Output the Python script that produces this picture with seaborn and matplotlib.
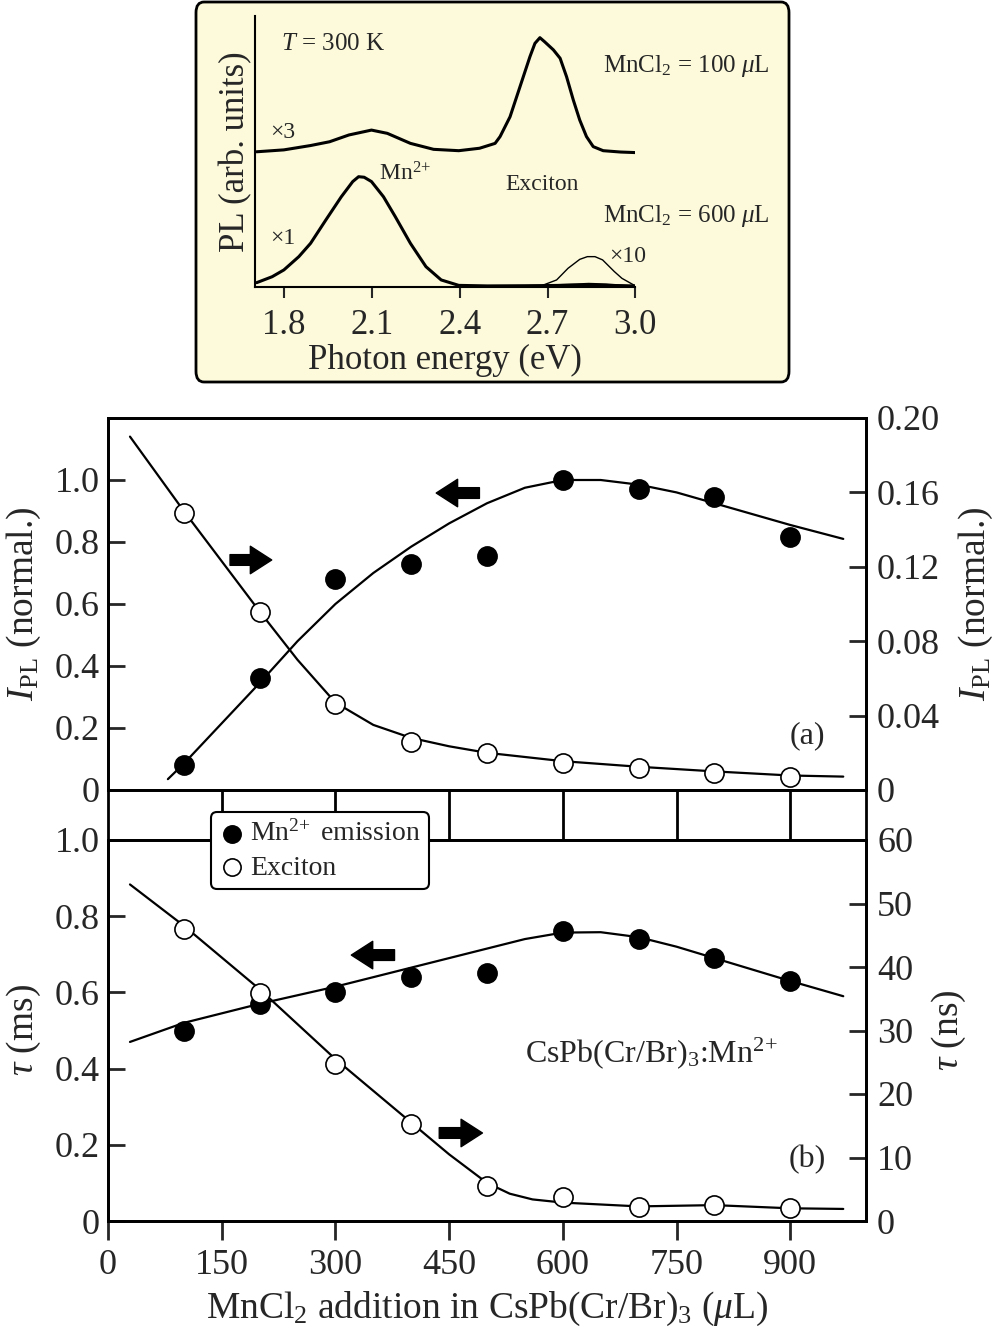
import numpy as np
import pandas as pd
import matplotlib
matplotlib.use("Agg")
import matplotlib.pyplot as plt
import seaborn as sns
from matplotlib.patches import FancyBboxPatch

# ---------------- data ----------------
mncl2 = [100, 200, 300, 400, 500, 600, 700, 800, 900]
# panel (a) PL intensity
ipl_mn = [0.08, 0.36, 0.68, 0.73, 0.755, 1.0, 0.97, 0.945, 0.816]
ipl_ex = [0.149, 0.0957, 0.046, 0.026, 0.020, 0.0145, 0.012, 0.009, 0.007]
fit_a_mn_x = [79, 100, 150, 200, 250, 300, 350, 400, 450, 500, 550, 600, 650, 700, 750, 800, 850, 900, 970]
fit_a_mn_y = [0.035, 0.085, 0.215, 0.345, 0.48, 0.60, 0.70, 0.785, 0.86, 0.925, 0.975, 1.0, 1.0, 0.985, 0.96, 0.925, 0.89, 0.855, 0.81]
fit_a_ex_x = [29, 100, 150, 200, 250, 300, 350, 400, 450, 500, 600, 700, 800, 900, 970]
fit_a_ex_y = [0.19, 0.150, 0.123, 0.096, 0.070, 0.047, 0.035, 0.028, 0.0235, 0.020, 0.0155, 0.0125, 0.010, 0.0078, 0.0072]
# panel (b) lifetimes
tau_mn = [0.50, 0.57, 0.60, 0.64, 0.65, 0.76, 0.74, 0.69, 0.63]
tau_ex = [46.0, 35.9, 24.7, 15.3, 5.5, 3.8, 2.2, 2.5, 2.0]
fit_b_mn_x = [29, 100, 200, 300, 400, 500, 550, 600, 650, 700, 750, 800, 850, 900, 970]
fit_b_mn_y = [0.47, 0.52, 0.57, 0.615, 0.665, 0.715, 0.74, 0.757, 0.758, 0.745, 0.72, 0.69, 0.66, 0.63, 0.59]
fit_b_ex_x = [29, 100, 200, 300, 400, 450, 500, 530, 560, 600, 700, 800, 900, 970]
fit_b_ex_y = [53.0, 46.5, 36.5, 25.5, 15.5, 10.5, 6.0, 4.3, 3.4, 2.9, 2.3, 2.5, 2.0, 1.9]

# inset spectra
spec100_e = [1.707, 1.80, 1.891, 1.956, 2.022, 2.099, 2.153, 2.232, 2.311, 2.397, 2.468, 2.521,
             2.538, 2.572, 2.606, 2.640, 2.657, 2.674, 2.690, 2.720, 2.743, 2.765, 2.788, 2.810,
             2.833, 2.856, 2.890, 2.950, 3.0]
spec100_v = [49.9, 50.6, 52.2, 53.6, 56.1, 57.9, 56.7, 53.0, 50.8, 50.3, 51.2, 53.0,
             55.5, 62.8, 73.9, 85.0, 89.9, 92.0, 90.5, 87.5, 84.4, 77.6, 69.0, 61.6,
             55.5, 51.8, 50.3, 49.8, 49.6]
spec600_e = [1.707, 1.76, 1.80, 1.851, 1.891, 1.943, 1.996, 2.035, 2.055, 2.074, 2.099, 2.14,
             2.18, 2.232, 2.285, 2.337, 2.397, 2.495, 2.679, 2.81, 3.0]
spec600_v = [1.6, 3.8, 6.3, 11.2, 16.1, 24.7, 33.3, 38.9, 40.7, 40.5, 38.9, 33.3,
             26.0, 16.1, 7.5, 2.6, 0.6, 0.4, 0.5, 0.7, 0.4]
spec600x10_e = [2.685, 2.731, 2.77, 2.81, 2.836, 2.862, 2.888, 2.928, 2.954, 3.0]
spec600x10_v = [0.7, 2.6, 6.9, 10.2, 11.2, 11.2, 10.0, 5.7, 3.2, 0.4]
spec600x1_e = [2.60, 2.70, 2.80, 2.84, 2.90, 2.95, 3.0]
spec600x1_v = [0.4, 0.7, 1.1, 1.3, 1.1, 0.7, 0.3]

x_ticks = [0, 150, 300, 450, 600, 750, 900]

# ---------------- style ----------------
sns.set_style("ticks")
plt.rcParams['font.family'] = ['Liberation Serif', 'DejaVu Serif']
plt.rcParams['mathtext.fontset'] = 'custom'
plt.rcParams['mathtext.rm'] = 'Liberation Serif'
plt.rcParams['mathtext.it'] = 'Liberation Serif:italic'
plt.rcParams['mathtext.bf'] = 'Liberation Serif:bold'
plt.rcParams['axes.linewidth'] = 2.0
plt.rcParams['axes.edgecolor'] = 'black'

W, H = 1000, 1327
fig = plt.figure(figsize=(W / 100, H / 100), dpi=100)

def fr(x0, y_top, x1, y_bot):
    return [x0 / W, 1 - y_bot / H, (x1 - x0) / W, (y_bot - y_top) / H]

TICK_FS = 26
LAB_FS = 27

axa = fig.add_axes(fr(108, 418, 866, 790))
axmid = fig.add_axes(fr(108, 790, 866, 840))
axb = fig.add_axes(fr(108, 840, 866, 1221))
axa2 = axa.twinx()
axb2 = axb.twinx()

df = pd.DataFrame({"x": mncl2, "ipl_mn": ipl_mn, "ipl_ex": ipl_ex, "tau_mn": tau_mn, "tau_ex": tau_ex})
dfa_mn = pd.DataFrame({"x": fit_a_mn_x, "y": fit_a_mn_y})
dfa_ex = pd.DataFrame({"x": fit_a_ex_x, "y": fit_a_ex_y})
dfb_mn = pd.DataFrame({"x": fit_b_mn_x, "y": fit_b_mn_y})
dfb_ex = pd.DataFrame({"x": fit_b_ex_x, "y": fit_b_ex_y})

MS = 190
# panel (a)
sns.lineplot(data=dfa_mn, x="x", y="y", ax=axa, color="black", lw=1.6, sort=False, zorder=2)
sns.scatterplot(data=df, x="x", y="ipl_mn", ax=axa, s=MS, color="black", edgecolor="black", linewidth=1.2, zorder=3)
sns.lineplot(data=dfa_ex, x="x", y="y", ax=axa2, color="black", lw=1.6, sort=False, zorder=2)
sns.scatterplot(data=df, x="x", y="ipl_ex", ax=axa2, s=MS, color="white", edgecolor="black", linewidth=1.2, zorder=3)
# panel (b)
sns.lineplot(data=dfb_mn, x="x", y="y", ax=axb, color="black", lw=1.6, sort=False, zorder=2)
h_mn = axb.scatter(df["x"], df["tau_mn"], s=MS, color="black", edgecolor="black", linewidth=1.2, zorder=3, label=r"Mn$^{2+}$ emission")
sns.lineplot(data=dfb_ex, x="x", y="y", ax=axb2, color="black", lw=1.6, sort=False, zorder=2)
h_ex = axb2.scatter(df["x"], df["tau_ex"], s=MS, color="white", edgecolor="black", linewidth=1.2, zorder=3, label="Exciton")

for ax in (axa, axa2, axmid, axb, axb2):
    ax.set_xlim(0, 1000)
    ax.set_xlabel("")
    ax.set_ylabel("")
    for s in ax.spines.values():
        s.set_linewidth(2.0)
        s.set_visible(True)

axa.set_ylim(0, 1.2)
axa2.set_ylim(0, 0.2)
axb.set_ylim(0, 1.0)
axb2.set_ylim(0, 60)

axa.set_yticks([0, 0.2, 0.4, 0.6, 0.8, 1.0])
axa.set_yticklabels(["0", "0.2", "0.4", "0.6", "0.8", "1.0"])
axa2.set_yticks([0, 0.04, 0.08, 0.12, 0.16, 0.20])
axa2.set_yticklabels(["0", "0.04", "0.08", "0.12", "0.16", "0.20"])
axb.set_yticks([0, 0.2, 0.4, 0.6, 0.8, 1.0])
axb.set_yticklabels(["0", "0.2", "0.4", "0.6", "0.8", "1.0"])
axb2.set_yticks([0, 10, 20, 30, 40, 50, 60])

for ax in (axa, axb):
    ax.tick_params(axis="y", direction="in", length=12, width=2, labelsize=TICK_FS, pad=6)
for ax in (axa2, axb2):
    ax.tick_params(axis="y", direction="in", length=12, width=2, labelsize=TICK_FS, pad=8)

axa.set_xticks([])
axa2.set_xticks([])
axmid.set_xticks([])
axmid.set_yticks([])
axmid.set_ylim(0, 1)
axmid.vlines(x_ticks[1:], 0, 1, color="black", lw=2.0)

axb.set_xticks(x_ticks)
axb.set_xticklabels([str(v) for v in x_ticks])
axb.tick_params(axis="x", direction="out", length=14, width=2, labelsize=TICK_FS, pad=6)

axa.set_ylabel(r"$I_{\rm PL}$ (normal.)", fontsize=LAB_FS, labelpad=8)
axa2.set_ylabel(r"$I_{\rm PL}$ (normal.)", fontsize=LAB_FS, rotation=90, labelpad=12)
axb.set_ylabel(r"$\tau$ (ms)", fontsize=LAB_FS, labelpad=8)
axb2.set_ylabel(r"$\tau$ (ns)", fontsize=LAB_FS, rotation=90, labelpad=12)
axb.set_xlabel(r"MnCl$_2$ addition in CsPb(Cr/Br)$_3$ ($\mu$L)", fontsize=LAB_FS, labelpad=6)

# arrows
arrow_kw = dict(arrowstyle="simple,head_length=0.7,head_width=0.9,tail_width=0.35",
                color="black", mutation_scale=22, shrinkA=0, shrinkB=0)
axa.annotate("", xy=(433, 0.958), xytext=(490, 0.958), arrowprops=arrow_kw)
axa.annotate("", xy=(216, 0.742), xytext=(161, 0.742), arrowprops=arrow_kw)
axb.annotate("", xy=(321, 0.698), xytext=(378, 0.698), arrowprops=arrow_kw)
axb.annotate("", xy=(494, 0.231), xytext=(437, 0.231), arrowprops=arrow_kw)

axa.text(922, 0.174, "(a)", fontsize=23, ha="center", va="center")
axb.text(922, 0.16, "(b)", fontsize=23, ha="center", va="center")
axb.text(717, 0.44, r"CsPb(Cr/Br)$_3$:Mn$^{2\!+}$", fontsize=23, ha="center", va="center")

leg = fig.legend(handles=[h_mn, h_ex], labels=[r"Mn$^{2\!+}$ emission", "Exciton"],
                 loc="upper left", bbox_to_anchor=(211 / W, 1 - 812 / H), borderaxespad=0,
                 fontsize=20, frameon=True, fancybox=True, handletextpad=0.2,
                 borderpad=0.3, labelspacing=0.3, handlelength=0.9, markerscale=0.9)
leg.get_frame().set_edgecolor("black")
leg.get_frame().set_linewidth(1.5)
leg.get_frame().set_alpha(1)

# ---------------- inset ----------------
box = FancyBboxPatch((196 / W, 1 - 382 / H), 593 / W, 380 / H,
                     boxstyle="round,pad=0,rounding_size=0.008", transform=fig.transFigure,
                     facecolor="#fcfadb", edgecolor="black", linewidth=2.0, zorder=-1)
fig.patches.append(box)

axi = fig.add_axes(fr(254.6, 16, 635.4, 287))
axi.set_zorder(5)
axi.patch.set_alpha(0)
d100 = pd.DataFrame({"e": spec100_e, "v": spec100_v})
d600 = pd.DataFrame({"e": spec600_e, "v": spec600_v})
d600x10 = pd.DataFrame({"e": spec600x10_e, "v": spec600x10_v})
d600x1 = pd.DataFrame({"e": spec600x1_e, "v": spec600x1_v})
sns.lineplot(data=d100, x="e", y="v", ax=axi, color="black", lw=2.2, sort=False)
sns.lineplot(data=d600, x="e", y="v", ax=axi, color="black", lw=2.2, sort=False)
sns.lineplot(data=d600x10, x="e", y="v", ax=axi, color="black", lw=1.0, sort=False)
sns.lineplot(data=d600x1, x="e", y="v", ax=axi, color="black", lw=1.0, sort=False)
axi.set_xlim(1.70, 3.0)
axi.set_ylim(0, 100)
axi.spines["top"].set_visible(False)
axi.spines["right"].set_visible(False)
axi.spines["left"].set_linewidth(1.5)
axi.spines["bottom"].set_linewidth(1.5)
axi.set_yticks([])
axi.set_xticks([1.8, 2.1, 2.4, 2.7, 3.0])
axi.set_xticklabels(["1.8", "2.1", "2.4", "2.7", "3.0"])
axi.tick_params(axis="x", direction="out", length=8, width=1.5, labelsize=25, pad=8)
axi.set_xlabel("Photon energy (eV)", fontsize=25, labelpad=1)
axi.set_ylabel("PL (arb. units)", fontsize=25, labelpad=2)

def ftext(x, y, s, **kw):
    fig.text(x / W, 1 - y / H, s, zorder=6, **kw)

ftext(281, 44, r"$T$ = 300 K", fontsize=18, ha="left", va="center")
ftext(603, 66, r"MnCl$_2$ = 100 $\mu$L", fontsize=18, ha="left", va="center")
ftext(270, 133, "×3", fontsize=17, ha="left", va="center")
ftext(379, 174, r"Mn$^{2\!+}$", fontsize=17, ha="left", va="center")
ftext(505, 184, "Exciton", fontsize=17, ha="left", va="center")
ftext(603, 216, r"MnCl$_2$ = 600 $\mu$L", fontsize=18, ha="left", va="center")
ftext(270, 238, "×1", fontsize=17, ha="left", va="center")
ftext(609, 257, "×10", fontsize=17, ha="left", va="center")

fig.savefig("out.png", dpi=100)
